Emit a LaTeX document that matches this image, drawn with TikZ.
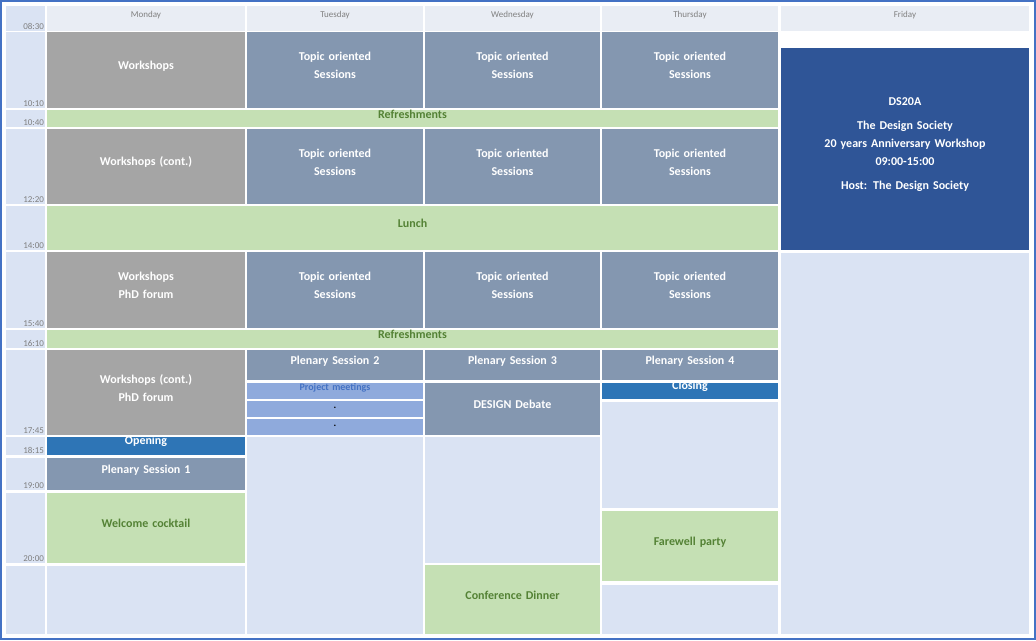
\documentclass[tikz,border=0pt]{standalone}
\usepackage{fontspec}
\setmainfont{Carlito}
\usetikzlibrary{fit}
\definecolor{frameblue}{HTML}{4472C4}
\definecolor{timebg}{HTML}{DAE3F3}
\definecolor{headbg}{HTML}{E9EDF4}
\definecolor{wsgray}{HTML}{A5A5A5}
\definecolor{slate}{HTML}{8497B0}
\definecolor{leaf}{HTML}{C5E0B4}
\definecolor{leaftext}{HTML}{548235}
\definecolor{meetblue}{HTML}{8FAADC}
\definecolor{midblue}{HTML}{2E75B6}
\definecolor{darkblue}{HTML}{2F5597}
\newcommand{\slot}[6]{\node (#1) [fit={(#2) (#3)},inner sep=0pt,#4] {#5#6};}
\begin{document}
\begin{tikzpicture}
  [
  x=1pt,y=-1pt,
  base/.style={draw=none,align=center,font=\fontsize{12}{18}\selectfont\bfseries},
  head/.style={base,fill=headbg,text=gray,font=\fontsize{9}{11}\selectfont},
  time/.style={fill=timebg},
  tlabel/.style={anchor=south east,text=gray,inner sep=1pt,font=\fontsize{9}{11}\selectfont},
  ws/.style={base,fill=wsgray,text=white},
  topic/.style={base,fill=slate,text=white},
  snack/.style={base,fill=leaf,text=leaftext},
  free/.style={base,fill=timebg},
  meet/.style={base,fill=meetblue,text=frameblue,font=\fontsize{10}{12}\selectfont\bfseries},
  flag/.style={base,fill=midblue,text=white},
  ds/.style={base,fill=darkblue,text=white}
  ]
  \fill[white] (0,0) rectangle (1036,640);
  \draw[frameblue,line width=2pt] (1,1) rectangle (1035,639);

  % time column
  \slot{t0}{6,6}{45,31}{time}{}{}
  \slot{t1}{6,32}{45,108}{time}{}{}
  \slot{t2}{6,110}{45,127}{time}{}{}
  \slot{t3}{6,129}{45,204}{time}{}{}
  \slot{t4}{6,206}{45,250}{time}{}{}
  \slot{t5}{6,252}{45,328}{time}{}{}
  \slot{t6}{6,330}{45,348}{time}{}{}
  \slot{t7}{6,350}{45,435}{time}{}{}
  \slot{t8}{6,437}{45,455}{time}{}{}
  \slot{t9}{6,458}{45,490}{time}{}{}
  \slot{t10}{6,493}{45,563}{time}{}{}
  \slot{t11}{6,566}{45,634}{time}{}{}
  \node[tlabel] at (t0.south east) {08:30};
  \node[tlabel] at (t1.south east) {10:10};
  \node[tlabel] at (t2.south east) {10:40};
  \node[tlabel] at (t3.south east) {12:20};
  \node[tlabel] at (t4.south east) {14:00};
  \node[tlabel] at (t5.south east) {15:40};
  \node[tlabel] at (t6.south east) {16:10};
  \node[tlabel] at (t7.south east) {17:45};
  \node[tlabel] at (t8.south east) {18:15};
  \node[tlabel] at (t9.south east) {19:00};
  \node[tlabel] at (t10.south east) {20:00};

  % day headers
  \slot{mon}{47,6}{245,31}{head}{Monday}{}
  \slot{tue}{247,6}{423,31}{head}{Tuesday}{}
  \slot{wed}{425,6}{600,31}{head}{Wednesday}{}
  \slot{thu}{602,6}{778,31}{head}{Thursday}{}
  \slot{fri}{781,6}{1029,31}{head}{Friday}{}

  % morning
  \slot{mon1}{47,32}{245,108}{ws}{Workshops}{}
  \slot{tue1}{247,32}{423,108}{topic}{Topic oriented\\Sessions}{}
  \slot{wed1}{425,32}{600,108}{topic}{Topic oriented\\Sessions}{}
  \slot{thu1}{602,32}{778,108}{topic}{Topic oriented\\Sessions}{}
  \slot{ref1}{47,110}{778,127}{snack}{Refreshments}{}
  \slot{mon2}{47,129}{245,204}{ws}{Workshops (cont.)}{}
  \slot{tue2}{247,129}{423,204}{topic}{Topic oriented\\Sessions}{}
  \slot{wed2}{425,129}{600,204}{topic}{Topic oriented\\Sessions}{}
  \slot{thu2}{602,129}{778,204}{topic}{Topic oriented\\Sessions}{}
  \slot{lunch}{47,206}{778,250}{snack}{Lunch}{}

  % afternoon
  \slot{mon3}{47,252}{245,328}{ws}{Workshops\\PhD forum}{}
  \slot{tue3}{247,252}{423,328}{topic}{Topic oriented\\Sessions}{}
  \slot{wed3}{425,252}{600,328}{topic}{Topic oriented\\Sessions}{}
  \slot{thu3}{602,252}{778,328}{topic}{Topic oriented\\Sessions}{}
  \slot{ref2}{47,330}{778,348}{snack}{Refreshments}{}

  % evening
  \slot{mon4}{47,350}{245,435}{ws}{Workshops (cont.)\\PhD forum}{}
  \slot{open}{47,437}{245,455}{flag}{Opening}{}
  \slot{ple1}{47,458}{245,490}{topic}{Plenary Session 1}{}
  \slot{cock}{47,493}{245,563}{snack}{Welcome cocktail}{}
  \slot{mon5}{47,566}{245,634}{free}{}{}
  \slot{ple2}{247,350}{423,380}{topic}{Plenary Session 2}{}
  \slot{meet}{247,383}{423,399}{meet}{Project meetings}{}
  \slot{dot1}{247,401}{423,417}{meet}{\textcolor{black}{.}}{}
  \slot{dot2}{247,419}{423,435}{meet}{\textcolor{black}{.}}{}
  \slot{tue5}{247,437}{423,634}{free}{}{}
  \slot{ple3}{425,350}{600,380}{topic}{Plenary Session 3}{}
  \slot{deb}{425,383}{600,435}{topic}{DESIGN Debate}{}
  \slot{wed5}{425,437}{600,563}{free}{}{}
  \slot{dinner}{425,565}{600,634}{snack}{Conference Dinner}{}
  \slot{ple4}{602,350}{778,380}{topic}{Plenary Session 4}{}
  \slot{close}{602,383}{778,399}{flag}{Closing}{}
  \slot{thu5}{602,402}{778,508}{free}{}{}
  \slot{party}{602,511}{778,581}{snack}{Farewell party}{}
  \slot{thu6}{602,585}{778,634}{free}{}{}

  % friday
  \slot{ds}{781,48}{1029,250}{ds}{DS20A\\[6pt]The Design Society\\20 years Anniversary Workshop\\09:00-15:00\\[6pt]Host: The Design Society}{}
  \slot{fri5}{781,253}{1029,634}{free}{}{}
\end{tikzpicture}
\end{document}
